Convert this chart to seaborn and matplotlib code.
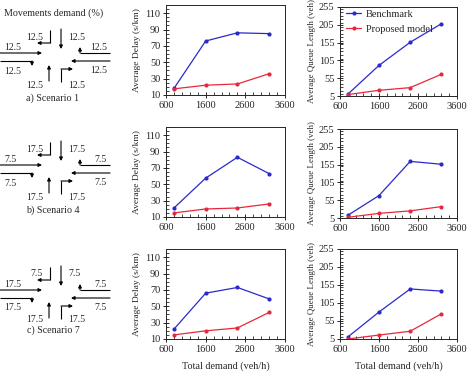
import matplotlib
matplotlib.use("Agg")
import matplotlib.pyplot as plt
import seaborn as sns
import pandas as pd
from matplotlib.ticker import MultipleLocator, FixedLocator

# ---------------- data ----------------
total_demand = [800, 1600, 2400, 3200]
scenarios = ["a) Scenario 1", "b) Scenario 4", "c) Scenario 7"]
series_names = ["Benchmark", "Proposed model"]

delay_bench = [[18, 76, 86, 85], [21, 57.5, 83, 63], [22, 66, 73, 59]]
delay_prop = [[17.5, 22, 23.5, 36], [15, 19.8, 21, 26], [15, 20, 23.5, 42.5]]
queue_bench = [[10, 91, 156, 208], [12.5, 68, 164, 156], [10.5, 80, 144, 138]]
queue_prop = [[9, 21, 28.5, 66], [7, 18, 25, 37], [5, 16, 26.5, 75]]

# movement demand (%) per approach
top_demand = [12.5, 17.5, 7.5]
bottom_demand = [12.5, 17.5, 17.5]
left_demand = [12.5, 7.5, 17.5]
right_demand = [12.5, 7.5, 7.5]

W, H = 474, 374
sns.set_style("ticks")
plt.rcParams['font.family'] = ['Liberation Serif', 'DejaVu Serif']
plt.rcParams['font.size'] = 7.5
plt.rcParams['axes.linewidth'] = 0.7

fig = plt.figure(figsize=(W / 100, H / 100), dpi=100)
fig.patch.set_facecolor("white")

# overlay axes in pixel coordinates for the intersection diagrams
bg = fig.add_axes([0, 0, 1, 1])
bg.set_xlim(0, W)
bg.set_ylim(H, 0)
bg.axis("off")

def line(pts):
    xs = [p[0] for p in pts]
    ys = [p[1] for p in pts]
    bg.plot(xs, ys, color="black", lw=0.8, solid_capstyle="butt")

def arrow(p0, p1):
    bg.annotate("", xy=p1, xytext=p0,
                arrowprops=dict(arrowstyle="-|>", lw=0.8, color="black",
                                mutation_scale=5, shrinkA=0, shrinkB=0))

fs = 7
bg.text(54, 13, "Movements demand (%)", ha="center", va="center", fontsize=7.2)

base_y = [53, 165, 290]
cap_off = [45, 45, 40]
bot_off = [32, 32, 30]
for i in range(3):
    y0 = base_y[i]
    # top approach
    line([(50, y0 - 23), (50, y0 - 10)])
    arrow((50, y0 - 10), (37, y0 - 10))
    arrow((61, y0 - 24), (61, y0 - 4))
    bg.text(43, y0 - 16, f"{top_demand[i]}", ha="right", va="center", fontsize=fs)
    bg.text(68, y0 - 16, f"{top_demand[i]}", ha="left", va="center", fontsize=fs)
    # left approach
    arrow((0, y0), (42, y0))
    line([(0, y0 + 8), (32, y0 + 8)])
    arrow((32, y0 + 8), (32, y0 + 13))
    bg.text(4, y0 - 1, f"{left_demand[i]}", ha="left", va="bottom", fontsize=fs)
    bg.text(4, y0 + 18, f"{left_demand[i]}", ha="left", va="center", fontsize=fs)
    # right approach
    line([(110, y0), (80, y0)])
    arrow((80, y0), (80, y0 - 6))
    arrow((110, y0 + 8), (71, y0 + 8))
    bg.text(107, y0 - 1, f"{right_demand[i]}", ha="right", va="bottom", fontsize=fs)
    bg.text(107, y0 + 17, f"{right_demand[i]}", ha="right", va="center", fontsize=fs)
    # bottom approach
    arrow((49, y0 + 28), (49, y0 + 12))
    line([(61, y0 + 29), (61, y0 + 16)])
    arrow((61, y0 + 16), (73, y0 + 16))
    bg.text(43, y0 + bot_off[i], f"{bottom_demand[i]}", ha="right", va="center", fontsize=fs)
    bg.text(68, y0 + bot_off[i], f"{bottom_demand[i]}", ha="left", va="center", fontsize=fs)
    bg.text(53, y0 + cap_off[i], scenarios[i], ha="center", va="center", fontsize=7.2)

def rect(left, right, top, bottom):
    return [left / W, 1 - bottom / H, (right - left) / W, (bottom - top) / H]

delay_rows = [(5, 95), (127, 217), (249, 339)]
queue_rows = [(7, 96), (129, 218), (249, 339)]
palette = {"Benchmark": "#2a2acc", "Proposed model": "#e8283a"}

for i in range(3):
    df_d = pd.DataFrame({
        "demand": total_demand * 2,
        "value": delay_bench[i] + delay_prop[i],
        "series": [series_names[0]] * 4 + [series_names[1]] * 4,
    })
    df_q = pd.DataFrame({
        "demand": total_demand * 2,
        "value": queue_bench[i] + queue_prop[i],
        "series": [series_names[0]] * 4 + [series_names[1]] * 4,
    })
    axd = fig.add_axes(rect(166, 285, *delay_rows[i]))
    axq = fig.add_axes(rect(340, 457, *queue_rows[i]))
    for ax, df in ((axd, df_d), (axq, df_q)):
        sns.lineplot(data=df, x="demand", y="value", hue="series", palette=palette,
                     marker="o", markersize=3, markeredgewidth=0, lw=0.9,
                     ax=ax, legend=(ax is axq and i == 0))
        ax.set_xlim(600, 3600)
        ax.xaxis.set_major_locator(FixedLocator([600, 1600, 2600, 3600]))
        ax.xaxis.set_minor_locator(MultipleLocator(200))
        ax.tick_params(which="major", direction="inout", length=4, width=0.7,
                       labelsize=7.5, pad=2)
        ax.tick_params(which="minor", direction="in", length=2, width=0.6)
        ax.tick_params(axis="both", which="both", top=False, right=False)
        ax.set_xlabel("")
        ax.set_ylabel("")
    axd.set_ylim(10, 120)
    axd.yaxis.set_major_locator(FixedLocator([10, 30, 50, 70, 90, 110]))
    axd.yaxis.set_minor_locator(MultipleLocator(5))
    axq.set_ylim(5, 255)
    axq.yaxis.set_major_locator(FixedLocator([5, 55, 105, 155, 205, 255]))
    axq.yaxis.set_minor_locator(MultipleLocator(10))
    axd.set_ylabel("Average Delay (s/km)", fontsize=6.8, labelpad=3)
    axq.set_ylabel("Average Queue Length (veh)", fontsize=6.4, labelpad=2)
    if i == 2:
        axd.set_xlabel("Total demand (veh/h)", fontsize=7.3, labelpad=6)
        axq.set_xlabel("Total demand (veh/h)", fontsize=7.3, labelpad=6)
    if i == 0:
        leg = axq.legend(loc="upper left", bbox_to_anchor=(-0.03, 1.08), frameon=False,
                         fontsize=7.5, handlelength=1.5, handletextpad=0.4,
                         labelspacing=0.6, title=None)

fig.savefig("out.png", dpi=100, facecolor="white")
